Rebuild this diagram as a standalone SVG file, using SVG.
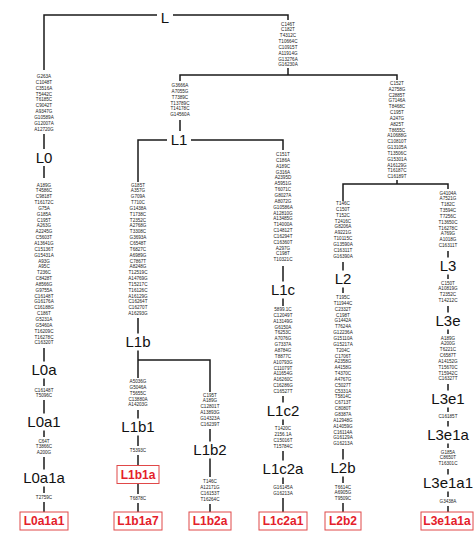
<svg xmlns="http://www.w3.org/2000/svg" width="474" height="535" viewBox="0 0 474 535">
<style>
.c{fill:none;stroke:#1a1a1a;stroke-width:1.5}
.m{font-family:"Liberation Sans",Arial,sans-serif;font-size:4.6px;fill:#222;text-anchor:middle}
.l{font-family:"Liberation Sans",Arial,sans-serif;font-size:15px;fill:#111;text-anchor:middle}
.b{fill:#fff;stroke:#e04848;stroke-width:1}
.r{font-family:"Liberation Sans",Arial,sans-serif;font-size:12px;font-weight:bold;fill:#e4202a;text-anchor:middle}
</style>
<rect width="474" height="535" fill="#fff"/>
<g id="connectors">
<path class="c" d="M44,70V15H157M173,15H288V20M288,68V75M180,81V75H397V80"/>
<path class="c" d="M44,134V149M44,166V178M44,348V361.5M44,378.5V386M44,400V413.5M44,430.5V437M44,457V469.5M44,486.5V493M44,502V512"/>
<path class="c" d="M180,120V131M138,182V140H167M191,140H283V150"/>
<path class="c" d="M138,318V333.5M138,350.5V378M138,360H210V392M138,410V418.5M138,435.5V446M138,455V465.5M138,483.5V494M138,503V512"/>
<path class="c" d="M210,429V441.5M210,458.5V477M210,504V512"/>
<path class="c" d="M283,266V281.5M283,298.5V306M283,396V402.5M283,419.5V425M283,451V460.5M283,477.5V484M283,498V512"/>
<path class="c" d="M397,180V184M343,201V184H448V189"/>
<path class="c" d="M343,262V270.5M343,287.5V293M343,449V459.5M343,476.5V483M343,503V512"/>
<path class="c" d="M448,251V257.5M448,274.5V279M448,306V312.5M448,329.5V334M448,384V390.5M448,407.5V412M448,421V426.5M448,443.5V448M448,469V474.5M448,491.5V497M448,506V512"/>
</g>
<g id="node-L">
<text x="165" y="23" class="l" font-size="20">L</text>
<text class="m"><tspan x="288" y="25.5">C146T</tspan><tspan x="288" dy="5.85">C182T</tspan><tspan x="288" dy="5.85">T4312C</tspan><tspan x="288" dy="5.85">T10664C</tspan><tspan x="288" dy="5.85">C10915T</tspan><tspan x="288" dy="5.85">A11914G</tspan><tspan x="288" dy="5.85">G13276A</tspan><tspan x="288" dy="5.85">G16230A</tspan></text>
</g>
<g id="node-L0">
<text class="m"><tspan x="44" y="78">G263A</tspan><tspan x="44" dy="5.85">C1048T</tspan><tspan x="44" dy="5.85">C3516A</tspan><tspan x="44" dy="5.85">T5442C</tspan><tspan x="44" dy="5.85">T6185C</tspan><tspan x="44" dy="5.85">C9042T</tspan><tspan x="44" dy="5.85">A9347G</tspan><tspan x="44" dy="5.85">G10589A</tspan><tspan x="44" dy="5.85">G12007A</tspan><tspan x="44" dy="5.85">A12720G</tspan></text>
<text class="l" x="44" y="162.9">L0</text>
</g>
<g id="node-L0a">
<text class="m"><tspan x="44" y="186.5">A189G</tspan><tspan x="44" dy="5.85">T4586C</tspan><tspan x="44" dy="5.85">C9818T</tspan><tspan x="44" dy="5.85">T16172C</tspan><tspan x="44" dy="5.85">G75A</tspan><tspan x="44" dy="5.85">G185A</tspan><tspan x="44" dy="5.85">C195T</tspan><tspan x="44" dy="5.85">A263G</tspan><tspan x="44" dy="5.85">A2245G</tspan><tspan x="44" dy="5.85">C5603T</tspan><tspan x="44" dy="5.85">A13641G</tspan><tspan x="44" dy="5.85">C15136T</tspan><tspan x="44" dy="5.85">G15431A</tspan><tspan x="44" dy="5.85">A93G</tspan><tspan x="44" dy="5.85">A95C</tspan><tspan x="44" dy="5.85">T236C</tspan><tspan x="44" dy="5.85">C8428T</tspan><tspan x="44" dy="5.85">A8566G</tspan><tspan x="44" dy="5.85">G9755A</tspan><tspan x="44" dy="5.85">C16148T</tspan><tspan x="44" dy="5.85">G16176A</tspan><tspan x="44" dy="5.85">C16188G</tspan><tspan x="44" dy="5.85">C186T</tspan><tspan x="44" dy="5.85">G5231A</tspan><tspan x="44" dy="5.85">G5460A</tspan><tspan x="44" dy="5.85">T16209C</tspan><tspan x="44" dy="5.85">T16278C</tspan><tspan x="44" dy="5.85">C16320T</tspan></text>
<text class="l" x="44" y="375.4">L0a</text>
</g>
<g id="node-L0a1">
<text class="m"><tspan x="44" y="391.5">C16148T</tspan><tspan x="44" dy="5.85">T5096C</tspan></text>
<text class="l" x="44" y="427.4">L0a1</text>
</g>
<g id="node-L0a1a">
<text class="m"><tspan x="44" y="442.5">C64T</tspan><tspan x="44" dy="5.85">T3866C</tspan><tspan x="44" dy="5.85">A200G</tspan></text>
<text class="l" x="44" y="483.4">L0a1a</text>
</g>
<g id="node-L0a1a1">
<text class="m" x="44" y="499">T2759C</text>
<rect class="b" x="20" y="512" width="48" height="18"/>
<text class="r" x="44" y="525.3">L0a1a1</text>
</g>
<g id="node-L1">
<text class="m"><tspan x="180" y="87">G3666A</tspan><tspan x="180" dy="5.85">A7055G</tspan><tspan x="180" dy="5.85">T7389C</tspan><tspan x="180" dy="5.85">T13789C</tspan><tspan x="180" dy="5.85">T14178C</tspan><tspan x="180" dy="5.85">G14560A</tspan></text>
<text class="l" x="179" y="145.4">L1</text>
</g>
<g id="node-L1b">
<text class="m"><tspan x="138" y="186.5">G185T</tspan><tspan x="138" dy="5.85">A357G</tspan><tspan x="138" dy="5.85">G709A</tspan><tspan x="138" dy="5.85">T710C</tspan><tspan x="138" dy="5.85">G1438A</tspan><tspan x="138" dy="5.85">T1738C</tspan><tspan x="138" dy="5.85">T2352C</tspan><tspan x="138" dy="5.85">A2768G</tspan><tspan x="138" dy="5.85">T3308C</tspan><tspan x="138" dy="5.85">G3693A</tspan><tspan x="138" dy="5.85">C6548T</tspan><tspan x="138" dy="5.85">T6827C</tspan><tspan x="138" dy="5.85">A6989G</tspan><tspan x="138" dy="5.85">C7867T</tspan><tspan x="138" dy="5.85">A8248G</tspan><tspan x="138" dy="5.85">T12519C</tspan><tspan x="138" dy="5.85">A14769G</tspan><tspan x="138" dy="5.85">T15217C</tspan><tspan x="138" dy="5.85">T16126C</tspan><tspan x="138" dy="5.85">A16129G</tspan><tspan x="138" dy="5.85">C16264T</tspan><tspan x="138" dy="5.85">C16270T</tspan><tspan x="138" dy="5.85">A16293G</tspan></text>
<text class="l" x="138" y="347.4">L1b</text>
</g>
<g id="node-L1b1">
<text class="m"><tspan x="138" y="383">A5036G</tspan><tspan x="138" dy="5.85">G5046A</tspan><tspan x="138" dy="5.85">T5655C</tspan><tspan x="138" dy="5.85">C13880A</tspan><tspan x="138" dy="5.85">A14203G</tspan></text>
<text class="l" x="138" y="432.4">L1b1</text>
</g>
<g id="node-L1b1a">
<text class="m" x="138" y="451.5">T5393C</text>
<rect class="b" x="117" y="465.5" width="42" height="18"/>
<text class="r" x="138" y="478.8">L1b1a</text>
</g>
<g id="node-L1b1a7">
<text class="m" x="138" y="499.5">T6878C</text>
<rect class="b" x="114" y="512" width="48" height="18"/>
<text class="r" x="138" y="525.3">L1b1a7</text>
</g>
<g id="node-L1b2">
<text class="m"><tspan x="210" y="396.5">C195T</tspan><tspan x="210" dy="5.85">A189G</tspan><tspan x="210" dy="5.85">C12801T</tspan><tspan x="210" dy="5.85">A13893G</tspan><tspan x="210" dy="5.85">G14323A</tspan><tspan x="210" dy="5.85">C16239T</tspan></text>
<text class="l" x="210" y="455.4">L1b2</text>
</g>
<g id="node-L1b2a">
<text class="m"><tspan x="210" y="483">T146C</tspan><tspan x="210" dy="5.85">A12171G</tspan><tspan x="210" dy="5.85">C16153T</tspan><tspan x="210" dy="5.85">T16264C</tspan></text>
<rect class="b" x="189" y="512" width="42" height="18"/>
<text class="r" x="210" y="525.3">L1b2a</text>
</g>
<g id="node-L1c">
<text class="m"><tspan x="283" y="156">C151T</tspan><tspan x="283" dy="5.85">C186A</tspan><tspan x="283" dy="5.85">A189C</tspan><tspan x="283" dy="5.85">G316A</tspan><tspan x="283" dy="5.85">A2395D</tspan><tspan x="283" dy="5.85">A5951G</tspan><tspan x="283" dy="5.85">T6071C</tspan><tspan x="283" dy="5.85">G8027A</tspan><tspan x="283" dy="5.85">A8072G</tspan><tspan x="283" dy="5.85">G10586A</tspan><tspan x="283" dy="5.85">A12810G</tspan><tspan x="283" dy="5.85">A13485G</tspan><tspan x="283" dy="5.85">T14000A</tspan><tspan x="283" dy="5.85">C14812T</tspan><tspan x="283" dy="5.85">C16294T</tspan><tspan x="283" dy="5.85">C16360T</tspan><tspan x="283" dy="5.85">A297G</tspan><tspan x="283" dy="5.85">C198T</tspan><tspan x="283" dy="5.85">T10321C</tspan></text>
<text class="l" x="283" y="295.4">L1c</text>
</g>
<g id="node-L1c2">
<text class="m"><tspan x="283" y="311">5899.1C</tspan><tspan x="283" dy="5.85">C12049T</tspan><tspan x="283" dy="5.85">A13149G</tspan><tspan x="283" dy="5.85">G6150A</tspan><tspan x="283" dy="5.85">T6253C</tspan><tspan x="283" dy="5.85">A7076G</tspan><tspan x="283" dy="5.85">G7337A</tspan><tspan x="283" dy="5.85">A8784G</tspan><tspan x="283" dy="5.85">T8877C</tspan><tspan x="283" dy="5.85">A10793G</tspan><tspan x="283" dy="5.85">C11079T</tspan><tspan x="283" dy="5.85">A11654G</tspan><tspan x="283" dy="5.85">A16260C</tspan><tspan x="283" dy="5.85">C16286G</tspan><tspan x="283" dy="5.85">C16527T</tspan></text>
<text class="l" x="283" y="416.4">L1c2</text>
</g>
<g id="node-L1c2a">
<text class="m"><tspan x="283" y="430">T1420C</tspan><tspan x="283" dy="5.85">2156.1A</tspan><tspan x="283" dy="5.85">C15016T</tspan><tspan x="283" dy="5.85">T15784C</tspan></text>
<text class="l" x="283" y="474.4">L1c2a</text>
</g>
<g id="node-L1c2a1">
<text class="m"><tspan x="283" y="489">G16145A</tspan><tspan x="283" dy="5.85">G16213A</tspan></text>
<rect class="b" x="259" y="512" width="48" height="18"/>
<text class="r" x="283" y="525.3">L1c2a1</text>
</g>
<g id="node-L2-L3">
<text class="m"><tspan x="397" y="85">C152T</tspan><tspan x="397" dy="5.83">A2758G</tspan><tspan x="397" dy="5.83">C2885T</tspan><tspan x="397" dy="5.83">G7146A</tspan><tspan x="397" dy="5.83">T8468C</tspan><tspan x="397" dy="5.83">C195T</tspan><tspan x="397" dy="5.83">A247G</tspan><tspan x="397" dy="5.83">A825T</tspan><tspan x="397" dy="5.83">T8655C</tspan><tspan x="397" dy="5.83">A10688G</tspan><tspan x="397" dy="5.83">C10810T</tspan><tspan x="397" dy="5.83">G13105A</tspan><tspan x="397" dy="5.83">T13506C</tspan><tspan x="397" dy="5.83">G15301A</tspan><tspan x="397" dy="5.83">A16129G</tspan><tspan x="397" dy="5.83">T16187C</tspan><tspan x="397" dy="5.83">C16189T</tspan></text>
</g>
<g id="node-L2">
<text class="m"><tspan x="343" y="205">T146C</tspan><tspan x="343" dy="5.85">C150T</tspan><tspan x="343" dy="5.85">T152C</tspan><tspan x="343" dy="5.85">T2416C</tspan><tspan x="343" dy="5.85">G8206A</tspan><tspan x="343" dy="5.85">A9221G</tspan><tspan x="343" dy="5.85">T10115C</tspan><tspan x="343" dy="5.85">G13590A</tspan><tspan x="343" dy="5.85">C16311T</tspan><tspan x="343" dy="5.85">G16390A</tspan></text>
<text class="l" x="343" y="284.4">L2</text>
</g>
<g id="node-L2b">
<text class="m"><tspan x="343" y="299">T195C</tspan><tspan x="343" dy="5.85">T11944C</tspan><tspan x="343" dy="5.85">C2332T</tspan><tspan x="343" dy="5.85">C198T</tspan><tspan x="343" dy="5.85">G1442A</tspan><tspan x="343" dy="5.85">T7624A</tspan><tspan x="343" dy="5.85">G12236A</tspan><tspan x="343" dy="5.85">G15110A</tspan><tspan x="343" dy="5.85">G15217A</tspan><tspan x="343" dy="5.85">T204C</tspan><tspan x="343" dy="5.85">C1706T</tspan><tspan x="343" dy="5.85">A2358G</tspan><tspan x="343" dy="5.85">A4158G</tspan><tspan x="343" dy="5.85">T4370C</tspan><tspan x="343" dy="5.85">A4767G</tspan><tspan x="343" dy="5.85">C5027T</tspan><tspan x="343" dy="5.85">C5331A</tspan><tspan x="343" dy="5.85">T5814C</tspan><tspan x="343" dy="5.85">C6713T</tspan><tspan x="343" dy="5.85">C8080T</tspan><tspan x="343" dy="5.85">G8387A</tspan><tspan x="343" dy="5.85">A12948G</tspan><tspan x="343" dy="5.85">A14059G</tspan><tspan x="343" dy="5.85">C16114A</tspan><tspan x="343" dy="5.85">G16129A</tspan><tspan x="343" dy="5.85">G16213A</tspan></text>
<text class="l" x="343" y="473.4">L2b</text>
</g>
<g id="node-L2b2">
<text class="m"><tspan x="343" y="488.5">T6614C</tspan><tspan x="343" dy="5.85">A6905G</tspan><tspan x="343" dy="5.85">T9509C</tspan></text>
<rect class="b" x="325" y="512" width="36" height="18"/>
<text class="r" x="343" y="525.3">L2b2</text>
</g>
<g id="node-L3">
<text class="m"><tspan x="448" y="194.5">G4104A</tspan><tspan x="448" dy="5.85">A7521G</tspan><tspan x="448" dy="5.85">T182C</tspan><tspan x="448" dy="5.85">T3594C</tspan><tspan x="448" dy="5.85">T7256C</tspan><tspan x="448" dy="5.85">T13650C</tspan><tspan x="448" dy="5.85">T16278C</tspan><tspan x="448" dy="5.85">A769G</tspan><tspan x="448" dy="5.85">A1018G</tspan><tspan x="448" dy="5.85">C16311T</tspan></text>
<text class="l" x="448" y="271.4">L3</text>
</g>
<g id="node-L3e">
<text class="m"><tspan x="448" y="284.5">C150T</tspan><tspan x="448" dy="5.85">A10819G</tspan><tspan x="448" dy="5.85">T2352C</tspan><tspan x="448" dy="5.85">T14212C</tspan></text>
<text class="l" x="448" y="326.4">L3e</text>
</g>
<g id="node-L3e1">
<text class="m"><tspan x="448" y="339.5">A189G</tspan><tspan x="448" dy="5.85">A200G</tspan><tspan x="448" dy="5.85">T6221C</tspan><tspan x="448" dy="5.85">C6587T</tspan><tspan x="448" dy="5.85">A14152G</tspan><tspan x="448" dy="5.85">T15670C</tspan><tspan x="448" dy="5.85">T15942C</tspan><tspan x="448" dy="5.85">C16327T</tspan></text>
<text class="l" x="448" y="404.4">L3e1</text>
</g>
<g id="node-L3e1a">
<text class="m" x="448" y="418">C16185T</text>
<text class="l" x="448" y="440.4">L3e1a</text>
</g>
<g id="node-L3e1a1">
<text class="m"><tspan x="448" y="453.5">G185A</tspan><tspan x="448" dy="5.85">C8650T</tspan><tspan x="448" dy="5.85">T16301C</tspan></text>
<text class="l" x="448" y="488.4">L3e1a1</text>
</g>
<g id="node-L3e1a1a">
<text class="m" x="448" y="503">G3438A</text>
<rect class="b" x="421" y="512" width="52" height="18"/>
<text class="r" x="447" y="525.3">L3e1a1a</text>
</g>
</svg>
